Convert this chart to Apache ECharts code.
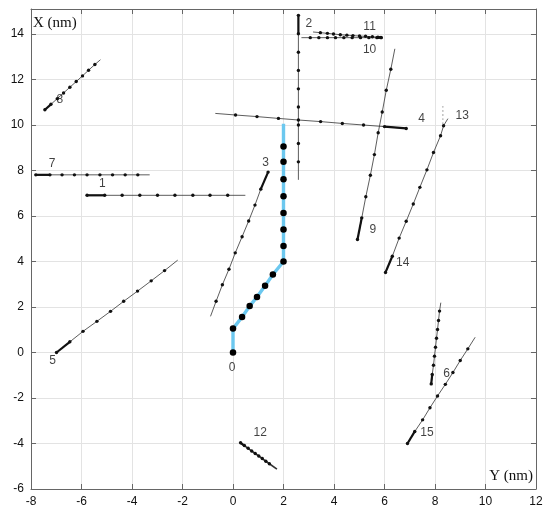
<!DOCTYPE html>
<html><head><meta charset="utf-8">
<script src="https://cdn.jsdelivr.net/npm/echarts@6/dist/echarts.min.js"></script>
<style>html,body{margin:0;padding:0;background:#fff}#c{width:550px;height:518px}</style>
</head><body><div id="c"></div>
<script>
// [Y nm, X nm, hasDot]
const track0 = [[0,0,1],[0,1.05,1],[0.36,1.56,1],[0.66,2.04,1],[0.95,2.44,1],[1.27,2.93,1],[1.58,3.43,1],[2,4,1],[2,4.68,1],[2,5.41,1],[2,6.13,1],[2,6.87,1],[2,7.62,1],[2,8.38,1],[2,9.06,1],[2,10.06,0]];
const track1 = [[-5.78,6.91,1],[-5.08,6.91,1],[-4.39,6.91,1],[-3.69,6.91,1],[-2.99,6.91,1],[-2.30,6.91,1],[-1.59,6.91,1],[-0.91,6.91,1],[-0.21,6.91,1],[0.49,6.91,0]];
const track2 = [[2.59,14.82,1],[2.59,14.01,1],[2.59,13.20,1],[2.59,12.40,1],[2.59,11.59,1],[2.59,10.79,1],[2.59,10.0,1],[2.59,9.19,1],[2.59,8.38,1],[2.59,7.59,0]];
const track3 = [[1.39,7.93,1],[1.10,7.18,1],[0.87,6.48,1],[0.62,5.78,1],[0.36,5.09,1],[0.09,4.38,1],[-0.16,3.66,1],[-0.42,2.98,1],[-0.67,2.25,1],[-0.89,1.59,0]];
const track4 = [[6.86,9.85,1],[6.00,9.93,1],[5.17,10.00,1],[4.33,10.07,1],[3.47,10.15,1],[2.59,10.22,1],[1.80,10.29,1],[0.95,10.37,1],[0.10,10.44,1],[-0.70,10.51,0]];
const track5 = [[-6.99,0.0,1],[-6.46,0.47,1],[-5.94,0.93,1],[-5.39,1.37,1],[-4.85,1.81,1],[-4.33,2.25,1],[-3.78,2.70,1],[-3.24,3.15,1],[-2.71,3.60,1],[-2.19,4.06,0]];
const track6 = [[7.85,-1.38,1],[7.89,-0.97,1],[7.94,-0.56,1],[7.98,-0.16,1],[8.02,0.23,1],[8.06,0.63,1],[8.10,1.01,1],[8.14,1.41,1],[8.18,1.82,1],[8.23,2.19,0]];
const track7 = [[-7.81,7.81,1],[-7.25,7.81,1],[-6.77,7.81,1],[-6.28,7.81,1],[-5.78,7.81,1],[-5.27,7.81,1],[-4.77,7.81,1],[-4.27,7.81,1],[-3.77,7.81,1],[-3.30,7.81,0]];
const track8 = [[-7.45,10.67,1],[-7.21,10.91,1],[-6.96,11.16,1],[-6.71,11.41,1],[-6.46,11.66,1],[-6.21,11.91,1],[-5.96,12.16,1],[-5.72,12.41,1],[-5.47,12.66,1],[-5.25,12.87,0]];
const track9 = [[4.93,4.97,1],[5.10,5.92,1],[5.26,6.85,1],[5.44,7.79,1],[5.60,8.70,1],[5.75,9.66,1],[5.91,10.57,1],[6.07,11.53,1],[6.25,12.45,1],[6.41,13.35,0]];
const track10 = [[5.87,13.84,1],[5.70,13.84,1],[5.38,13.84,1],[5.05,13.84,1],[4.72,13.84,1],[4.39,13.84,1],[4.06,13.84,1],[3.74,13.84,1],[3.40,13.84,1],[3.06,13.84,1],[2.71,13.84,0]];
const track11 = [[5.86,13.85,1],[5.74,13.86,1],[5.52,13.88,1],[5.25,13.90,1],[5.01,13.91,1],[4.75,13.93,1],[4.51,13.95,1],[4.25,13.97,1],[3.98,14.00,1],[3.74,14.03,1],[3.46,14.06,1],[3.17,14.09,0]];
const track12 = [[0.30,-3.97,1],[0.45,-4.09,1],[0.60,-4.21,1],[0.74,-4.33,1],[0.88,-4.44,1],[1.02,-4.55,1],[1.16,-4.66,1],[1.30,-4.78,1],[1.44,-4.89,1],[1.74,-5.13,0]];
const track13 = [[8.31,10.80],[8.31,10.62],[8.31,10.44],[8.31,10.26],[8.31,10.08]];
const track14 = [[6.04,3.52,1],[6.31,4.23,1],[6.58,5.03,1],[6.86,5.77,1],[7.14,6.53,1],[7.40,7.26,1],[7.68,8.03,1],[7.94,8.79,1],[8.22,9.53,1],[8.34,9.97,1],[8.51,10.28,0]];
const track15 = [[6.91,-4.0,1],[7.20,-3.47,1],[7.51,-2.96,1],[7.80,-2.43,1],[8.10,-1.91,1],[8.41,-1.40,1],[8.71,-0.88,1],[9.00,-0.35,1],[9.30,0.16,1],[9.59,0.67,0]];
const blackTracks = [track1,track2,track3,track4,track5,track6,track7,track8,track9,track10,track11,track12,track14,track15];
const trackLabels = [
  [-0.04,-0.67,'0'],[-5.17,7.40,'1'],[3.0,14.45,'2'],[1.29,8.35,'3'],[7.47,10.30,'4'],
  [-7.15,-0.38,'5'],[8.46,-0.91,'6'],[-7.16,8.28,'7'],[-6.86,11.13,'8'],[5.54,5.40,'9'],
  [5.41,13.30,'10'],[5.41,14.33,'11'],[1.08,-3.51,'12'],[9.08,10.43,'13'],[6.72,3.96,'14'],[7.68,-3.51,'15']
];
const xMin = -8, xMax = 12, yMin = -6, yMax = 15.1, step = 2;

const FONT = '"Liberation Sans", Arial, sans-serif';
const chart = echarts.init(document.getElementById('c'));
const series = [];
series.push({
  type:'line', data: track0.map(p=>[p[0],p[1]]), symbol:'circle',
  symbolSize:(v,pr)=> track0[pr.dataIndex][2] ? 6.5 : 0,
  lineStyle:{color:'#6cc8ef', width:3.4}, itemStyle:{color:'#000'}, z:3
});
blackTracks.forEach(t=>{
  const thin = t === track12 ? 1.6 : 0.8;
  series.push({
    type:'line', data: t.map(p=>[p[0],p[1]]), symbol:'circle',
    symbolSize:(v,pr)=> t[pr.dataIndex][2] ? 3.4 : 0,
    lineStyle:{color:'#333', width:thin}, itemStyle:{color:'#111'}, z:4
  });
  series.push({
    type:'line', data: t.slice(0,2).map(p=>[p[0],p[1]]), symbol:'none',
    lineStyle:{color:'#111', width:2.2}, z:5
  });
});
series.push({
  type:'scatter', data: track13, symbol:'circle', symbolSize:1.8,
  itemStyle:{color:'#aaa'}, z:4
});
series.push({
  type:'scatter', symbolSize:0, z:6,
  data: trackLabels.map(l=>({value:[l[0],l[1]], name:l[2]})),
  label:{show:true, position:'inside', formatter:'{b}', color:'#111',
    fontFamily:FONT, fontSize:12}
});
series.forEach(s=>{ s.animation=false; s.silent=true; s.xAxisIndex=0; s.yAxisIndex=0; });

const frameLine = {show:true, onZero:false, lineStyle:{color:'#666', width:1}};
const tick = {show:true, inside:true, length:5, lineStyle:{color:'#666'}};
chart.setOption({
  animation:false,
  grid:{left:31, right:14, top:9, bottom:29, containLabel:false},
  xAxis:[
    {type:'value', min:xMin, max:xMax, interval:step, position:'bottom',
     axisLine:frameLine, axisTick:tick,
     axisLabel:{color:'#111', fontFamily:FONT, fontSize:12, margin:7},
     splitLine:{show:true, lineStyle:{color:'#e3e3e3'}}},
    {type:'value', min:xMin, max:xMax, interval:step, position:'top',
     axisLine:frameLine, axisTick:tick, axisLabel:{show:false}, splitLine:{show:false}}
  ],
  yAxis:[
    {type:'value', min:yMin, max:yMax, interval:step, position:'left',
     axisLine:frameLine, axisTick:tick,
     axisLabel:{color:'#111', fontFamily:FONT, fontSize:12, margin:7, showMaxLabel:false},
     splitLine:{show:true, lineStyle:{color:'#e3e3e3'}}},
    {type:'value', min:yMin, max:yMax, interval:step, position:'right',
     axisLine:frameLine, axisTick:tick, axisLabel:{show:false}, splitLine:{show:false}}
  ],
  graphic:[
    {type:'text', x:33, y:23, style:{text:'X (nm)', font:'15px "Liberation Serif", serif', fill:'#111', textVerticalAlign:'middle'}},
    {type:'text', x:533, y:476, style:{text:'Y (nm)', font:'15px "Liberation Serif", serif', fill:'#111', textAlign:'right', textVerticalAlign:'middle'}}
  ],
  series: series
});
</script></body></html>
